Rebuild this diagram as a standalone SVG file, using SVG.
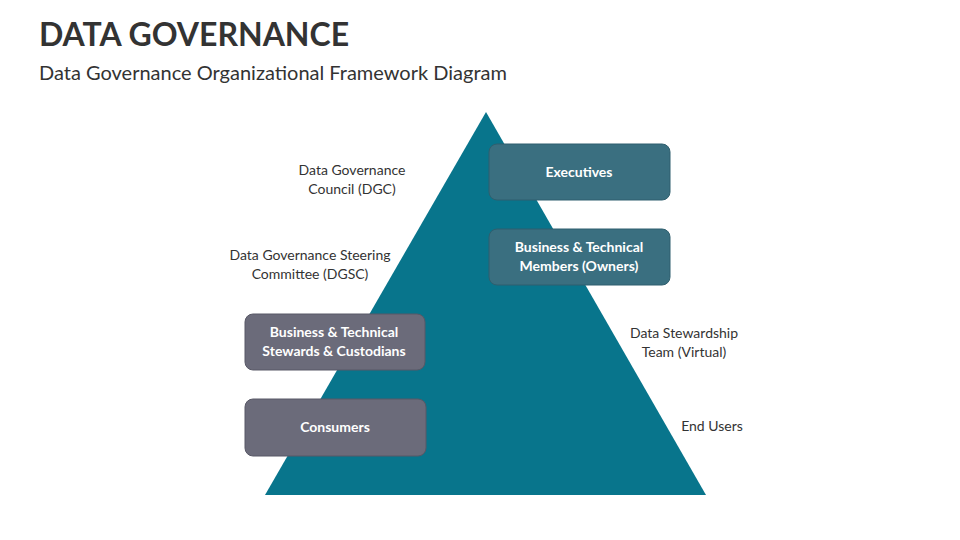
<svg xmlns="http://www.w3.org/2000/svg" width="960" height="540" viewBox="0 0 960 540">
<style>
.t{font-family:Lato,"Liberation Sans",sans-serif;fill:#333}
.b{font-family:Lato,"Liberation Sans",sans-serif;font-weight:bold;font-size:14px;fill:#fff;text-anchor:middle}
.l{font-family:Lato,"Liberation Sans",sans-serif;font-size:14px;fill:#333;text-anchor:middle}
.tb{fill:#3A6F80;stroke:#2F5F6E;stroke-width:1}
.gb{fill:#6B6B7A;stroke:#585866;stroke-width:1}
</style>
<rect width="960" height="540" fill="#fff"/>
<text class="t" x="39" y="46" font-size="32" font-weight="bold">DATA GOVERNANCE</text>
<text class="t" x="39" y="80" font-size="20">Data Governance Organizational Framework Diagram</text>
<g id="pyramid"><polygon points="486,112 265,495 706,495" fill="#08758C"/></g>
<g id="connectors"/>
<g id="executives"><rect class="tb" x="489" y="144" width="181" height="56" rx="8"/><text class="b" x="579" y="177">Executives</text></g>
<g id="members"><rect class="tb" x="489" y="229" width="181" height="56" rx="8"/><text class="b" x="579" y="252">Business &amp; Technical</text><text class="b" x="579" y="271">Members (Owners)</text></g>
<g id="stewards"><rect class="gb" x="245" y="314" width="180" height="56" rx="8"/><text class="b" x="334" y="337">Business &amp; Technical</text><text class="b" x="334" y="356">Stewards &amp; Custodians</text></g>
<g id="consumers"><rect class="gb" x="245" y="399" width="181" height="57" rx="8"/><text class="b" x="335" y="432">Consumers</text></g>
<g id="labels">
<text class="l" x="352" y="175">Data Governance</text><text class="l" x="352" y="194">Council (DGC)</text>
<text class="l" x="310" y="260">Data Governance Steering</text><text class="l" x="310" y="279">Committee (DGSC)</text>
<text class="l" x="684" y="338">Data Stewardship</text><text class="l" x="684" y="357">Team (Virtual)</text>
<text class="l" x="712" y="431">End Users</text>
</g>
</svg>
